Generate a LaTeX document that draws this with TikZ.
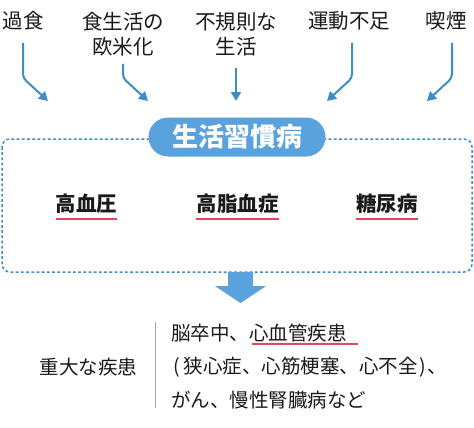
\documentclass[tikz,border=0pt]{standalone}
\usepackage{fontspec}
\setmainfont{Noto Sans CJK JP}
\usetikzlibrary{arrows.meta}
\definecolor{arrblue}{HTML}{3E8CC8}
\definecolor{pillblue}{HTML}{5AA2DD}
\definecolor{ulred}{HTML}{E0485C}
\definecolor{txt}{HTML}{1A1A1A}
\tikzset{
  lbl/.style={inner sep=0pt, font=\fontsize{20.5}{25}\selectfont, text=txt, align=center},
  dis/.style={inner sep=0pt, font=\bfseries\fontsize{20.5}{25}\selectfont, text=txt},
  body/.style={inner sep=0pt, font=\fontsize{19.5}{25}\selectfont, text=txt, anchor=west},
  flow/.style={arrblue, line width=2pt, -{Triangle[length=9pt,width=10pt]}},
  ul/.style={ulred, line width=1.6pt}
}
\begin{document}
\begin{tikzpicture}[x=1pt,y=-1pt]
\path[use as bounding box, fill=white] (0,0) rectangle (474,428);
% top labels
\node[lbl] (t1) at (23,21) {過食};
\node[lbl] (t2) at (123,34) {食生活の\\欧米化};
\node[lbl] (t3) at (236,34) {不規則な\\生活};
\node[lbl] (t4) at (349,21) {運動不足};
\node[lbl] (t5) at (446,21) {喫煙};
% arrows
\coordinate (a1s) at (23,43); \coordinate (a1b) at (23,78); \coordinate (a1e) at (48,101);
\coordinate (a2s) at (123,64); \coordinate (a2b) at (123,78); \coordinate (a2e) at (148,101);
\coordinate (a3s) at (236,68); \coordinate (a3e) at (236,101);
\coordinate (a4s) at (352,43); \coordinate (a4b) at (352,78); \coordinate (a4e) at (327,101);
\coordinate (a5s) at (452,43); \coordinate (a5b) at (452,78); \coordinate (a5e) at (427,101);
\draw[flow, rounded corners=4pt] (a1s) -- (a1b) -- (a1e);
\draw[flow, rounded corners=4pt] (a2s) -- (a2b) -- (a2e);
\draw[flow] (a3s) -- (a3e);
\draw[flow, rounded corners=4pt] (a4s) -- (a4b) -- (a4e);
\draw[flow, rounded corners=4pt] (a5s) -- (a5b) -- (a5e);
% dashed box
\draw[arrblue, line width=1.5pt, dash pattern=on 2.8pt off 2.4pt, rounded corners=8pt] (2,139) rectangle (472,272);
\node[fill=pillblue, rounded corners=19.5pt, minimum width=177pt, minimum height=39pt, inner sep=0pt,
  text=white, font=\bfseries\fontsize{26}{30}\selectfont] (pill) at (237,137) {生活習慣病};
% diseases
\node[dis] (d1) at (86.5,204) {高血圧};
\node[dis] (d2) at (237.5,204) {高脂血症};
\node[dis] (d3) at (387,204) {糖尿病};
\draw[ul] (d1.south west |- 0,219) -- (d1.south east |- 0,219);
\draw[ul] (d2.south west |- 0,219) -- (d2.south east |- 0,219);
\draw[ul] (d3.south west |- 0,219) -- (d3.south east |- 0,219);
% big down arrow
\fill[pillblue] (228,272) -- (253,272) -- (253,286) -- (266,286) -- (240.5,303) -- (215,286) -- (228,286) -- cycle;
% bottom
\node[inner sep=0pt, font=\fontsize{19.5}{25}\selectfont, text=txt] (sev) at (88.5,367) {重大な疾患};
\coordinate (vt) at (155,322); \coordinate (vb) at (155,408);
\draw[gray!70, line width=1pt] (vt) -- (vb);
\node[body] (l1) at (171,333) {脳卒中、心血管疾患};
\node[body] (l2) at (171,367) {\kern2pt(\kern4pt狭心症、心筋梗塞、心不全\kern2pt)\kern1pt、};
\node[body] (l3) at (171,400) {がん、慢性腎臓病など};
\draw[ul, line width=1.3pt] (252,344) -- (358,344);
\end{tikzpicture}
\end{document}
